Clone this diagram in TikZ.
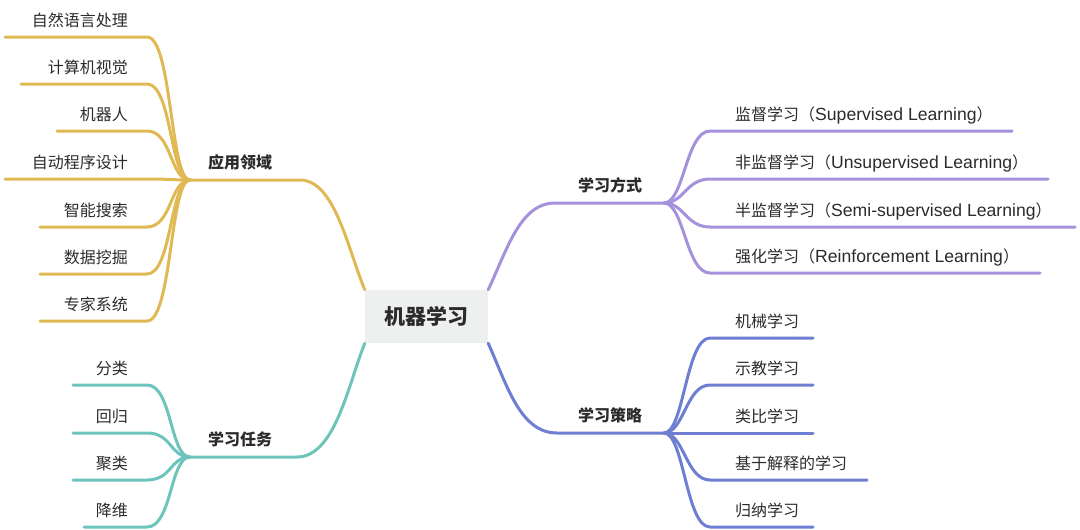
\documentclass[tikz,border=0pt]{standalone}
\usepackage{fontspec}
\setmainfont{Noto Sans CJK SC}
\newfontfamily\lat[Scale=1.1]{Liberation Sans}
\usetikzlibrary{calc}
\definecolor{yel}{HTML}{E0B955}
\definecolor{pur}{HTML}{A591DC}
\definecolor{blu}{HTML}{6E7ED2}
\definecolor{tea}{HTML}{6CC4BC}
\definecolor{boxgray}{HTML}{EEF0EF}
\definecolor{txt}{HTML}{2B2B2B}
\tikzset{
  root/.style={fill=boxgray,rounded corners=2pt,minimum width=123pt,minimum height=53pt,font=\fontsize{21}{25}\selectfont\bfseries,text=txt},
  hub/.style={font=\fontsize{16}{19}\selectfont\bfseries,text=txt,inner sep=0pt},
  leaf/.style={font=\fontsize{16}{19}\selectfont,text=txt,inner sep=0pt},
  wire/.style={line width=3pt,line cap=round}
}
\begin{document}
\begin{tikzpicture}[x=1pt,y=-1pt]
\useasboundingbox(0,0)rectangle(1080,530);
\node[root](ml)at(426.5,316.5){机器学习};
% hubs
\coordinate(app)at(190,180);\coordinate(way)at(664,203);
\coordinate(task)at(190,457);\coordinate(plan)at(664,433);
% main branches
\draw[wire,yel](ml.north west)..controls(348,250)and(335,180)..(300,180)--(app);
\draw[wire,pur](ml.north east)..controls(507,250)and(520,203)..(555,203)--(way);
\draw[wire,tea](ml.south west)..controls(348,385)and(335,457)..(297,457)--(task);
\draw[wire,blu](ml.south east)..controls(507,385)and(520,433)..(557,433)--(plan);
\node[hub,anchor=base west](appl)at(208,168){应用领域};
\node[hub,anchor=base west](wayl)at(578,191){学习方式};
\node[hub,anchor=base west](taskl)at(208,445){学习任务};
\node[hub,anchor=base west](planl)at(578,421){学习策略};
% leaves
\foreach \y/\x/\t[count=\i] in {37/5/自然语言处理,84/21/计算机视觉,131/57/机器人,179/5/自动程序设计,227/40/智能搜索,274/40/数据挖掘,321/40/专家系统}{
  \coordinate(a\i)at(\x,\y);
  \draw[wire,yel](app)..controls(170,180)and(172,\y)..(147,\y)--(a\i);
  \node[leaf,anchor=base east](al\i)at(128,\y-11){\t};}
\foreach \y/\x/\t[count=\i] in {385/73/分类,433/73/回归,480/73/聚类,527/84/降维}{
  \coordinate(c\i)at(\x,\y);
  \draw[wire,tea](task)..controls(170,457)and(172,\y)..(147,\y)--(c\i);
  \node[leaf,anchor=base east](cl\i)at(128,\y-11){\t};}
\foreach \y/\x/\t[count=\i] in {131/1012/监督学习（{\lat Supervised Learning}）,179/1048/非监督学习（{\lat Unsupervised Learning}）,227/1075/半监督学习（{\lat Semi-supervised Learning}）,273/1040/强化学习（{\lat Reinforcement Learning}）}{
  \coordinate(b\i)at(\x,\y);
  \draw[wire,pur](way)..controls(684,203)and(686,\y)..(710,\y)--(b\i);
  \node[leaf,anchor=base west](bl\i)at(735,\y-11){\t};}
\foreach \y/\x/\t[count=\i] in {338/813/机械学习,385/813/示教学习,433/813/类比学习,480/867/基于解释的学习,527/813/归纳学习}{
  \coordinate(d\i)at(\x,\y);
  \draw[wire,blu](plan)..controls(684,433)and(686,\y)..(710,\y)--(d\i);
  \node[leaf,anchor=base west](dl\i)at(735,\y-11){\t};}
\end{tikzpicture}
\end{document}
